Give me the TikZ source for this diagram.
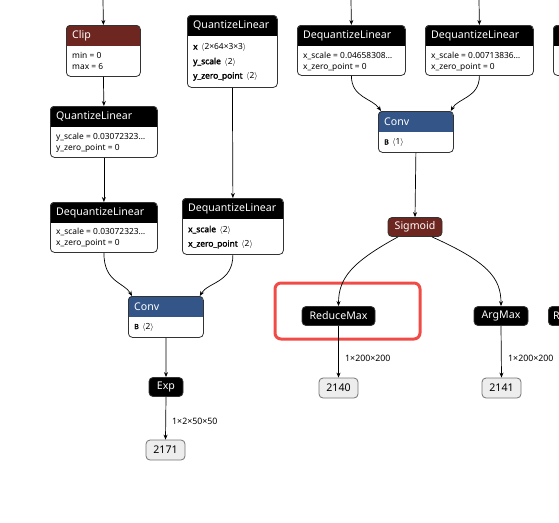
\documentclass[tikz,border=0pt]{standalone}
\usepackage{fontspec}
\setmainfont{Noto Sans}[BoldFont={Noto Sans}, BoldFeatures={FakeBold=2.2}]
\usepackage{tikz}
\usetikzlibrary{calc,arrows.meta,positioning}
\definecolor{actred}{HTML}{6E2720}
\definecolor{layerblue}{HTML}{335588}
\definecolor{markred}{HTML}{F04B46}
\colorlet{hdrblack}{black}

% op box: name, left, top, width, height, header colour, title
\newcommand{\opnode}[7]{%
  \begin{scope}
    \clip[rounded corners=4pt] (#2,#3) rectangle ++(#4,#5);
    \fill[white] (#2,#3) rectangle ++(#4,#5);
    \fill[#6] (#2,#3) rectangle ++(#4,21);
  \end{scope}
  \node[opframe, minimum width=#4, minimum height=#5, anchor=north west] (#1) at (#2,#3) {};
  \node[hdrtext, anchor=west] (#1-title) at (#2+6,#3+10.5) {#7};
}
\newcommand{\tl}{$\langle$}
\newcommand{\tr}{$\rangle$}

\begin{document}
\begin{tikzpicture}[x=1pt, y=-1pt,
    opframe/.style={draw=black!80, line width=0.8pt, rounded corners=4pt, inner sep=0pt},
    hdrtext/.style={text=white, font=\fontsize{10.6}{12}\selectfont, inner sep=0pt},
    attr/.style={font=\fontsize{8.4}{10}\selectfont, inner sep=0pt, anchor=west},
    pill/.style={fill=black, draw=black!80, line width=0.8pt, rounded corners=4pt, text=white,
      font=\fontsize{10.6}{12}\selectfont, inner sep=0pt, minimum height=19},
    tensor/.style={fill=black!7, draw=black!55, line width=0.8pt, rounded corners=4pt,
      font=\fontsize{10.6}{12}\selectfont, inner sep=0pt, minimum width=39, minimum height=20},
    flow/.style={line width=0.7pt, -{Stealth[length=5pt,width=4pt]}},
    dimlabel/.style={font=\fontsize{8.8}{10}\selectfont, anchor=west, inner sep=0pt},
    hilite/.style={draw=markred, line width=3pt, rounded corners=6pt}]

  \useasboundingbox (0,0) rectangle (559,522);
  \clip (0,0) rectangle (559,522);

  % free ends of the incoming edges at the top border
  \coordinate (in1) at (103,0);
  \coordinate (in3) at (351,0);
  \coordinate (in4) at (479,0);

  % ---- left branch: Clip -> Quantize -> Dequantize
  \opnode{clip}{66}{25}{74}{51}{actred}{Clip}
  \node[attr] (clip-a1) at (72,55.5) {min = 0};
  \node[attr] (clip-a2) at (72,67) {max = 6};

  \opnode{qlin1}{50}{106}{107}{51}{hdrblack}{QuantizeLinear}
  \node[attr] (qlin1-a1) at (56,137.5) {y\_scale = 0.03072323…};
  \node[attr] (qlin1-a2) at (56,148.5) {y\_zero\_point = 0};

  \opnode{dql1}{50}{202}{107}{50}{hdrblack}{DequantizeLinear}
  \node[attr] (dql1-a1) at (56,232) {x\_scale = 0.03072323…};
  \node[attr] (dql1-a2) at (56,243) {x\_zero\_point = 0};

  % ---- weights branch
  \opnode{qlin2}{187}{15}{90}{72}{hdrblack}{QuantizeLinear}
  \node[attr] (qlin2-a1) at (193,47.5) {\textbf{x}\, \tl2×64×3×3\tr};
  \node[attr] (qlin2-a2) at (193,62) {\textbf{y\_scale}\, \tl2\tr};
  \node[attr] (qlin2-a3) at (193,76.5) {\textbf{y\_zero\_point}\, \tl2\tr};

  \opnode{dql2}{182}{198}{101}{56}{hdrblack}{DequantizeLinear}
  \node[attr] (dql2-a1) at (188,230) {\textbf{x\_scale}\, \tl2\tr};
  \node[attr] (dql2-a2) at (188,244.5) {\textbf{x\_zero\_point}\, \tl2\tr};

  % ---- Conv -> Exp -> output
  \opnode{conv1}{128}{296}{75}{41}{layerblue}{Conv}
  \node[attr] (conv1-a1) at (134,327) {\textbf{\scriptsize B}\, \tl2\tr};
  \node[pill, minimum width=34] (exp) at (166,387) {Exp};
  \node[tensor] (out1) at (165.5,450) {2171};

  % ---- right part: Dequantize pair -> Conv -> Sigmoid
  \opnode{dql3}{297}{25}{108}{50}{hdrblack}{DequantizeLinear}
  \node[attr] (dql3-a1) at (303,56) {x\_scale = 0.04658308…};
  \node[attr] (dql3-a2) at (303,67) {x\_zero\_point = 0};

  \opnode{dql4}{425}{25}{108}{50}{hdrblack}{DequantizeLinear}
  \node[attr] (dql4-a1) at (431,56) {x\_scale = 0.00713836…};
  \node[attr] (dql4-a2) at (431,67) {x\_zero\_point = 0};

  \opnode{dql5}{553}{25}{108}{50}{hdrblack}{}

  \opnode{conv2}{378}{111}{75}{41}{layerblue}{Conv}
  \node[attr] (conv2-a1) at (384,142.5) {\textbf{\scriptsize B}\, \tl1\tr};

  \node[pill, fill=actred, minimum width=54] (sig) at (415,227) {Sigmoid};

  % ---- heads
  \node[pill, minimum width=73] (rmax) at (338.5,316) {ReduceMax};
  \node[pill, minimum width=54] (amax) at (501,316) {ArgMax};
  \node[pill, minimum width=40, anchor=west] (rmax2) at (548,316) {};
  \node[hdrtext, anchor=west] (rmax2-title) at (553,316) {R};
  \node[tensor] (out2) at (338.5,388) {2140};
  \node[tensor] (out3) at (501.5,388) {2141};

  % highlight round ReduceMax
  \draw[hilite] (275,283) rectangle (420,339);

  % ---- edges
  \draw[flow] (in1) -- (clip.north);
  \draw[flow] (clip.south) -- (qlin1.north);
  \draw[flow] (qlin1.south) -- (dql1.north);
  \draw[flow] (qlin2.south) -- (dql2.north);
  \draw[flow] (dql1.south) .. controls ($(dql1.south)+(0,30)$) and (124,282) .. ([xshift=4pt]conv1.north west);
  \draw[flow] (dql2.south) .. controls ($(dql2.south)+(0,28)$) and (208,282) .. ([xshift=-4pt]conv1.north east);
  \draw[flow] (conv1.south) -- (exp.north);
  \draw[flow] (exp.south) -- (out1.north);

  \draw[flow] (in3) -- (dql3.north);
  \draw[flow] (in4) -- (dql4.north);
  \draw[flow] (dql3.south) .. controls ($(dql3.south)+(0,22)$) and (372,98) .. ([xshift=3pt]conv2.north west);
  \draw[flow] (dql4.south) .. controls ($(dql4.south)+(0,22)$) and (458,98) .. ([xshift=-3pt]conv2.north east);
  \draw[flow] (conv2.south) -- (sig.north);
  \draw[flow] ([xshift=-17pt]sig.south) .. controls (352,262) and (338.5,278) .. (rmax.north);
  \draw[flow] ([xshift=17pt]sig.south) .. controls (488,262) and (501,278) .. (amax.north);
  \draw[flow] (rmax.south) -- (out2.north);
  \draw[flow] (amax.south) -- (out3.north);

  % ---- tensor shapes
  \node[dimlabel] (d1) at (172,421) {1×2×50×50};
  \node[dimlabel] (d2) at (345,358.5) {1×200×200};
  \node[dimlabel] (d3) at (508,358.5) {1×200×200};
\end{tikzpicture}
\end{document}
